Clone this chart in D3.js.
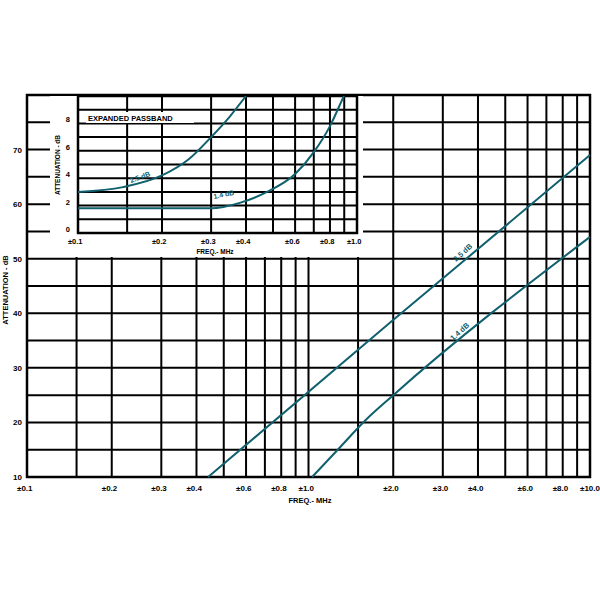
<!DOCTYPE html>
<html><head><meta charset="utf-8">
<script src="https://cdn.jsdelivr.net/npm/d3@7"></script>
<style>body{margin:0;background:#fff}text{font-family:"Liberation Sans",Arial,sans-serif;font-weight:bold}</style>
</head><body><svg id="c" width="600" height="600"></svg>
<script>
const mainTicks = [0.1, 0.2, 0.3, 0.4, 0.6, 0.8, 1.0, 2.0, 3.0, 4.0, 6.0, 8.0, 10.0];
const mainGridX = [0.15, 0.2, 0.3, 0.4, 0.5, 0.6, 0.7, 0.8, 0.9, 1, 1.5, 2, 3, 4, 5, 6, 7, 8, 9];
const mainYTicks = [10, 20, 30, 40, 50, 60, 70];
const insetTicks = [0.1, 0.2, 0.3, 0.4, 0.6, 0.8, 1.0];
const insetGridX = [0.15, 0.2, 0.3, 0.4, 0.5, 0.6, 0.7, 0.8, 0.9];
const insetYTicks = [0, 2, 4, 6, 8];
const main25 = [[0.44, 10], [1.95, 38.3], [10, 69]];
const main14 = [[1.03, 10], [1.27, 15], [1.6, 20.5], [2, 25], [10, 54]];
const inset25 = [[0.1, 3], [0.145, 3.35], [0.2, 4.2], [0.25, 5.4], [0.3, 7], [0.35, 8.5], [0.4, 10]];
const inset14 = [[0.1, 1.8], [0.3, 1.8], [0.38, 2.2], [0.476, 3], [0.6, 4.3], [0.7, 5.9], [0.8, 7.8], [0.89, 9.85], [0.92, 10.5]];

const svg = d3.select("#c");
const teal = "#10606e";

// main chart
const x = d3.scaleLog().domain([0.1, 10]).range([27, 590]);
const y = d3.scaleLinear().domain([10, 80]).range([477, 95]);
const g = svg.append("g");
g.selectAll(".vx").data(mainGridX).join("line")
  .attr("x1", d => x(d)).attr("x2", d => x(d)).attr("y1", 95).attr("y2", 477)
  .attr("stroke", "#000").attr("stroke-width", 2);
g.selectAll(".hy").data(d3.range(15, 80, 5)).join("line")
  .attr("x1", 27).attr("x2", 590).attr("y1", d => y(d)).attr("y2", d => y(d))
  .attr("stroke", "#000").attr("stroke-width", 2);
g.append("rect").attr("x", 27).attr("y", 95).attr("width", 563).attr("height", 382)
  .attr("fill", "none").attr("stroke", "#000").attr("stroke-width", 2.5);
g.selectAll(".yl").data(mainYTicks).join("text")
  .attr("x", 22).attr("y", d => y(d) + 3).attr("text-anchor", "end").attr("font-size", 8).text(d => d);
g.selectAll(".xl").data(mainTicks).join("text")
  .attr("x", d => x(d) - 10).attr("y", 491).attr("font-size", 8)
  .text(d => "\u00b1" + d.toFixed(1));
g.append("text").attr("x", 310).attr("y", 503).attr("text-anchor", "middle").attr("font-size", 7.5).text("FREQ.- MHz");
g.append("text").attr("transform", "translate(8,290) rotate(-90)").attr("text-anchor", "middle")
  .attr("font-size", 7.5).text("ATTENUATION - dB");

const line = d3.line().x(d => x(d[0])).y(d => y(d[1])).curve(d3.curveMonotoneX);
[main25, main14].forEach(s => g.append("path").attr("d", line(s)).attr("fill", "none")
  .attr("stroke", teal).attr("stroke-width", 2));
g.append("text").attr("transform", "translate(456,262) rotate(-42)").attr("font-size", 7.5).attr("fill", teal).text("2.5 dB");
g.append("text").attr("transform", "translate(453,341) rotate(-42)").attr("font-size", 7.5).attr("fill", teal).text("1.4 dB");

// inset
const ix = d3.scaleLog().domain([0.1, 1]).range([78, 357]);
const iy = d3.scaleLinear().domain([0, 10]).range([233, 96]);
const ig = svg.append("g");
ig.append("rect").attr("x", 50).attr("y", 96).attr("width", 313).attr("height", 161).attr("fill", "#fff");
ig.selectAll(".ivx").data(insetGridX).join("line")
  .attr("x1", d => ix(d)).attr("x2", d => ix(d)).attr("y1", 96).attr("y2", 233)
  .attr("stroke", "#000").attr("stroke-width", 2);
ig.selectAll(".ihy").data(d3.range(1, 10)).join("line")
  .attr("x1", 78).attr("x2", 357).attr("y1", d => iy(d)).attr("y2", d => iy(d))
  .attr("stroke", "#000").attr("stroke-width", 2);
ig.append("rect").attr("x", 78).attr("y", 96).attr("width", 279).attr("height", 137)
  .attr("fill", "none").attr("stroke", "#000").attr("stroke-width", 2.5);
ig.append("rect").attr("x", 86).attr("y", 112).attr("width", 108).attr("height", 11).attr("fill", "#fff");
ig.append("text").attr("x", 88).attr("y", 121).attr("font-size", 7.5).text("EXPANDED PASSBAND");
ig.selectAll(".iyl").data(insetYTicks).join("text")
  .attr("x", 70).attr("y", d => iy(d) - 1).attr("text-anchor", "end").attr("font-size", 7.5).text(d => d);
ig.selectAll(".ixl").data(insetTicks).join("text")
  .attr("x", d => ix(d) - 10).attr("y", 244).attr("font-size", 7.5)
  .text(d => "\u00b1" + d.toFixed(1));
ig.append("text").attr("x", 215).attr("y", 254).attr("text-anchor", "middle").attr("font-size", 6.5).text("FREQ.- MHz");
ig.append("text").attr("transform", "translate(60,165) rotate(-90)").attr("text-anchor", "middle")
  .attr("font-size", 6.5).text("ATTENUATION - dB");
const iline = d3.line().x(d => ix(d[0])).y(d => iy(d[1])).curve(d3.curveMonotoneX);
ig.append("clipPath").attr("id", "ic").append("rect").attr("x", 78).attr("y", 96).attr("width", 279).attr("height", 137);
[inset25, inset14].forEach(s => ig.append("path").attr("d", iline(s)).attr("fill", "none")
  .attr("clip-path", "url(#ic)").attr("stroke", teal).attr("stroke-width", 2));
ig.append("text").attr("transform", "translate(131,183) rotate(-20)").attr("font-size", 7).attr("fill", teal).text("2.5 dB");
ig.append("text").attr("transform", "translate(214,199) rotate(-12)").attr("font-size", 7).attr("fill", teal).text("1.4 dB");
</script></body></html>
